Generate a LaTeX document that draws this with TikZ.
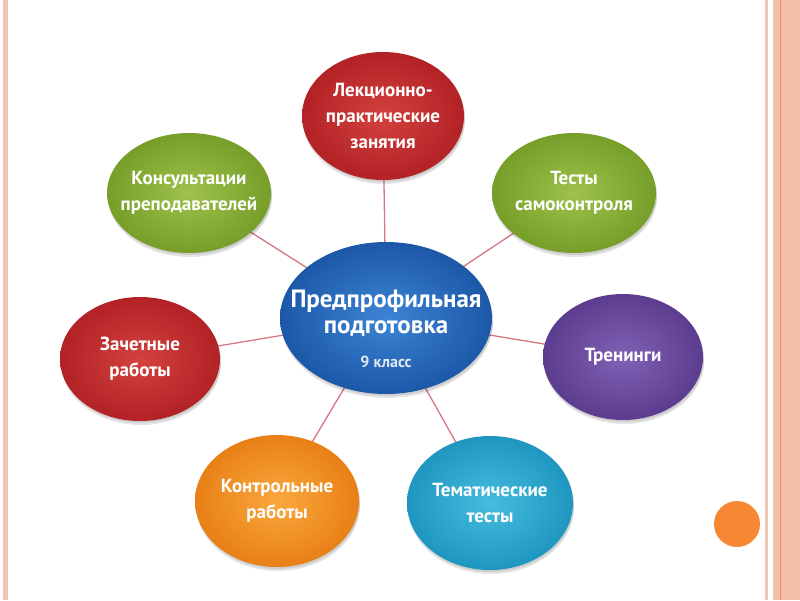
\documentclass[tikz,border=0pt]{standalone}
\usepackage{fontspec}
\setmainfont{PT Sans}
\usetikzlibrary{shapes.geometric,shadows,backgrounds}
\definecolor{redO}{RGB}{178,34,38}
\definecolor{redI}{RGB}{212,66,62}
\definecolor{grnO}{RGB}{118,158,40}
\definecolor{grnI}{RGB}{158,194,76}
\definecolor{bluO}{RGB}{28,88,168}
\definecolor{bluI}{RGB}{62,132,212}
\definecolor{purO}{RGB}{92,60,142}
\definecolor{purI}{RGB}{128,98,182}
\definecolor{orgO}{RGB}{232,128,22}
\definecolor{orgI}{RGB}{250,168,62}
\definecolor{cyaO}{RGB}{30,150,192}
\definecolor{cyaI}{RGB}{70,188,222}
\definecolor{dotc}{RGB}{247,135,50}
\definecolor{linkc}{RGB}{214,118,128}
\definecolor{framec}{RGB}{241,196,184}
\definecolor{bandc}{RGB}{243,190,170}
\definecolor{bandl}{RGB}{236,140,100}
\definecolor{subc}{RGB}{225,232,240}
\tikzset{
  bubble/.style={ellipse, inner sep=0pt,
    general shadow={fill=black, opacity=0.10, shadow xshift=1pt, shadow yshift=-4pt},
    general shadow={fill=black, opacity=0.10, shadow xshift=1pt, shadow yshift=-2pt}},
  lbltext/.style={text=white, align=center, inner sep=0pt,
    font=\bfseries\fontsize{19}{26}\selectfont},
  redb/.style={bubble, inner color=redI, outer color=redO},
  grnb/.style={bubble, inner color=grnI, outer color=grnO},
  blub/.style={bubble, inner color=bluI, outer color=bluO},
  purb/.style={bubble, inner color=purI, outer color=purO},
  orgb/.style={bubble, inner color=orgI, outer color=orgO},
  cyab/.style={bubble, inner color=cyaI, outer color=cyaO},
  link/.style={draw=linkc, line width=1.3pt},
}
\begin{document}
\begin{tikzpicture}[x=1pt,y=-1pt]
\useasboundingbox (0,0) rectangle (800,600);
\fill[framec] (3,0) rectangle (8,600);
\fill[framec] (765,0) rectangle (768,600);
\fill[bandc] (773,0) rectangle (800,600);
\draw[bandl, line width=1pt] (780,0) -- (780,600);

\node[blub, minimum width=212pt, minimum height=152pt,
  label={[lbltext, yshift=-11pt]center:{\fontsize{25}{33}\selectfont Предпрофильная\\\fontsize{25}{33}\selectfont подготовка\\[8pt]\fontsize{16}{18}\selectfont\color{subc}9 класс}}] (c) at (386,318) {};
\node[redb, minimum width=162pt, minimum height=128pt,
  label={[lbltext]center:{Лекционно-\\практические\\занятия}}] (t) at (383,116) {};
\node[grnb, minimum width=164pt, minimum height=120pt,
  label={[lbltext]center:{Консультации\\преподавателей}}] (gl) at (189,193) {};
\node[grnb, minimum width=164pt, minimum height=120pt,
  label={[lbltext]center:{Тесты\\самоконтроля}}] (gr) at (574,193) {};
\node[redb, minimum width=160pt, minimum height=124pt,
  label={[lbltext]center:{Зачетные\\работы}}] (rl) at (140,359) {};
\node[purb, minimum width=160pt, minimum height=126pt,
  label={[lbltext]center:{Тренинги}}] (pr) at (623,357) {};
\node[orgb, minimum width=164pt, minimum height=132pt,
  label={[lbltext]center:{Контрольные\\работы}}] (ob) at (277,501) {};
\node[cyab, minimum width=166pt, minimum height=134pt,
  label={[lbltext]center:{Тематические\\тесты}}] (cb) at (490,503) {};
\node[circle, fill=dotc, minimum size=46pt, inner sep=0pt] (dot) at (737,524) {};

\begin{scope}[on background layer]
  \foreach \n in {t,gl,gr,rl,pr,ob,cb}
    \draw[link] (c.center) -- (\n.center);
\end{scope}
\end{tikzpicture}
\end{document}
